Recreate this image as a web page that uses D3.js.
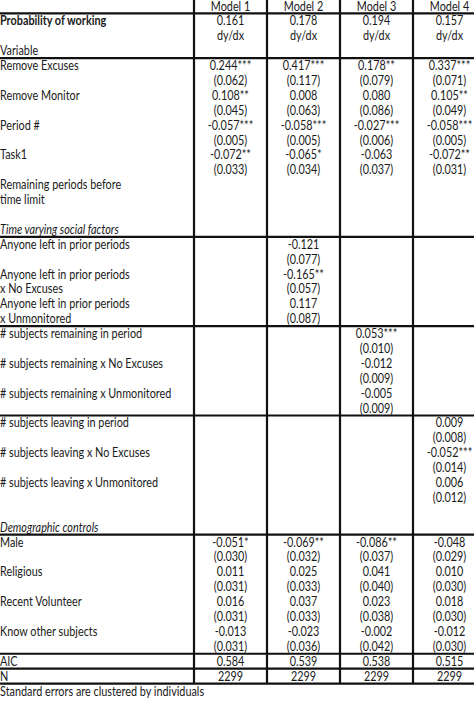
<!DOCTYPE html>
<html><head><meta charset="utf-8">
<script src="https://cdn.jsdelivr.net/npm/d3@7"></script>
<style>body{margin:0;background:#fff}</style>
</head><body>
<svg id="tbl" width="474" height="701"></svg>
<script>
// Table content
const models = ["Model 1", "Model 2", "Model 3", "Model 4"];
const baseProb = ["0.161", "0.178", "0.194", "0.157"];
const aic = ["0.584", "0.539", "0.538", "0.515"];
const nObs = ["2299", "2299", "2299", "2299"];

// each entry: label lines, coefficient per model, standard error per model
const variables = [
    ["Remove Excuses"], ["Remove Monitor"], ["Period #"], ["Task1"],
    ["Remaining periods before", "time limit"],
    ["Anyone left in prior periods"], ["Anyone left in prior periods", "x No Excuses"], ["Anyone left in prior periods", "x Unmonitored"],
    ["# subjects remaining in period"], ["# subjects remaining x No Excuses"], ["# subjects remaining x Unmonitored"],
    ["# subjects leaving in period"], ["# subjects leaving x No Excuses"], ["# subjects leaving x Unmonitored"],
    ["Male"], ["Religious"], ["Recent Volunteer"], ["Know other subjects"]
];
const coef1 = ["0.244***", "0.108**", "-0.057***", "-0.072**", "", "", "", "", "", "", "", "", "", "", "-0.051*", "0.011", "0.016", "-0.013"];
const coef2 = ["0.417***", "0.008", "-0.058***", "-0.065*", "", "-0.121", "-0.165**", "0.117", "", "", "", "", "", "", "-0.069**", "0.025", "0.037", "-0.023"];
const coef3 = ["0.178**", "0.080", "-0.027***", "-0.063", "", "", "", "", "0.053***", "-0.012", "-0.005", "", "", "", "-0.086**", "0.041", "0.023", "-0.002"];
const coef4 = ["0.337***", "0.105**", "-0.058***", "-0.072**", "", "", "", "", "", "", "", "0.009", "-0.052***", "0.006", "-0.048", "0.010", "0.018", "-0.012"];
const se1 = ["(0.062)", "(0.045)", "(0.005)", "(0.033)", "", "", "", "", "", "", "", "", "", "", "(0.030)", "(0.031)", "(0.031)", "(0.031)"];
const se2 = ["(0.117)", "(0.063)", "(0.005)", "(0.034)", "", "(0.077)", "(0.057)", "(0.087)", "", "", "", "", "", "", "(0.032)", "(0.033)", "(0.033)", "(0.036)"];
const se3 = ["(0.079)", "(0.086)", "(0.006)", "(0.037)", "", "", "", "", "(0.010)", "(0.009)", "(0.009)", "", "", "", "(0.037)", "(0.040)", "(0.038)", "(0.042)"];
const se4 = ["(0.071)", "(0.049)", "(0.005)", "(0.031)", "", "", "", "", "", "", "", "(0.008)", "(0.014)", "(0.012)", "(0.029)", "(0.030)", "(0.030)", "(0.030)"];

// section headings placed before variable index, with a blank line above
const headings = { 5: "Time varying social factors", 14: "Demographic controls" };
// variable indices that start a new ruled block
const blockStarts = [8, 11];

let svg = d3.select("#tbl");
let font = "Lato, 'Open Sans', sans-serif";
let fontSize = "12.6px";
let squeeze = 0.86; // narrow the glyphs a bit, the original face is condensed
let coefs = [coef1, coef2, coef3, coef4];
let ses = [se1, se2, se3, se4];

let yScale = d3.scaleLinear().domain([0, 46]).range([6, 691]);
let xScale = d3.scaleBand().domain(models).range([194, 486]);

// Build lines
let lines = [];
let rules = [];   // rule after line index
lines.push({ label: "", cells: models });
rules.push(0);
lines.push({ label: "Probability of working", cells: baseProb, bold: true });
lines.push({ label: "", cells: models.map(() => "dy/dx") });
lines.push({ label: "Variable", cells: [] });
rules.push(3);

variables.forEach(function(v, i) {
    if (headings[i]) {
        lines.push({ label: "", cells: [] });
        lines.push({ label: headings[i], cells: [], italic: true });
        rules.push(lines.length - 1);
    }
    if (blockStarts.includes(i)) rules.push(lines.length - 1);
    lines.push({ label: v[0], cells: coefs.map(c => c[i]) });
    lines.push({ label: v[1] || "", cells: ses.map(s => s[i]) });
});
rules.push(lines.length - 1);
lines.push({ label: "AIC", cells: aic });
rules.push(lines.length - 1);
lines.push({ label: "N", cells: nObs });
rules.push(lines.length - 1);
let lastRule = lines.length - 1;
lines.push({ label: "Standard errors are clustered by individuals", cells: [] });

function putText(x, y, txt, anchor, d) {
    svg.append("text")
        .attr("transform", "translate(" + x + "," + y + ") scale(" + squeeze + ",1)")
        .attr("text-anchor", anchor)
        .style("font-family", font)
        .style("font-size", fontSize)
        .style("font-weight", d && d.bold ? "bold" : "normal")
        .style("font-style", d && d.italic ? "italic" : "normal")
        .style("fill", "#1a1a1a")
        .text(txt);
}

// Draw text
lines.forEach(function(d, i) {
    let y = yScale(i) + 4.5;
    putText(0, y, d.label, "start", d);
    d.cells.forEach(function(c, j) {
        if (!c) return;
        putText(xScale(models[j]) + xScale.bandwidth() / 2, y, c, "middle");
    });
});

// Rules
rules.forEach(function(r) {
    let y = yScale(r + 0.5);
    svg.append("line")
        .attr("x1", 0).attr("x2", 474)
        .attr("y1", y).attr("y2", y)
        .attr("stroke", "#111")
        .attr("stroke-width", 2.2);
});
models.forEach(function(m) {
    svg.append("line")
        .attr("x1", xScale(m)).attr("x2", xScale(m))
        .attr("y1", 0).attr("y2", yScale(lastRule + 0.5))
        .attr("stroke", "#111")
        .attr("stroke-width", 2.2);
});
</script>
</body></html>
